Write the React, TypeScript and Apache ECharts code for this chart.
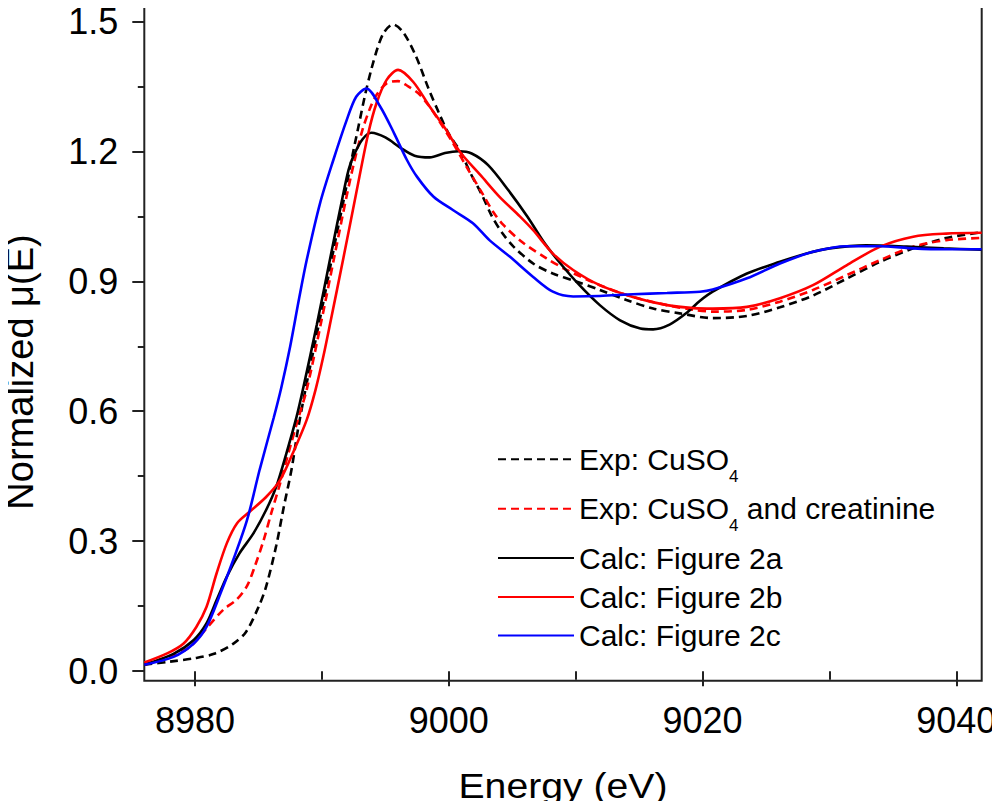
import React, { useEffect, useRef } from "react";
import * as echarts from "echarts";

// Axis ranges and ticks
const X_MIN = 8976;
const X_MAX = 9042;
const Y_MIN = -0.022;
const Y_MAX = 1.547;
const xMajorTicks = [8980, 9000, 9020, 9040];
const xMinorTicks = [8990, 9010, 9030];
const yMajorTicks = [0, 0.3, 0.6, 0.9, 1.2, 1.5];
const yMinorTicks = [0.15, 0.45, 0.75, 1.05, 1.35];

// Series names and legend labels
const seriesNames = [
  "Exp: CuSO4",
  "Exp: CuSO4 and creatinine",
  "Calc: Figure 2a",
  "Calc: Figure 2b",
  "Calc: Figure 2c",
];
const legendLabels = [
  "Exp: CuSO{sub|4}",
  "Exp: CuSO{sub|4} and creatinine",
  "Calc: Figure 2a",
  "Calc: Figure 2b",
  "Calc: Figure 2c",
];

// Data: [energy (eV), normalized mu(E)]
const expCuSO4 = [
  [8976, 0.015], [8978, 0.022], [8980, 0.03], [8981.5, 0.04], [8983, 0.063],
  [8984, 0.09], [8985, 0.148], [8985.6, 0.195], [8986.4, 0.29], [8987, 0.38],
  [8987.6, 0.465], [8988.1, 0.556], [8988.7, 0.65], [8989.4, 0.75], [8990.2, 0.865],
  [8991, 0.985], [8991.8, 1.1], [8992.4, 1.19], [8992.9, 1.26], [8993.4, 1.33],
  [8993.9, 1.39], [8994.4, 1.44], [8994.9, 1.475], [8995.6, 1.493], [8996.4, 1.475],
  [8997.4, 1.42], [8998.4, 1.345], [8999.2, 1.29], [9000, 1.24], [9000.9, 1.2],
  [9001.7, 1.15], [9002.6, 1.1], [9003.4, 1.05], [9004.2, 1.012], [9005.1, 0.98],
  [9006.7, 0.94], [9008.2, 0.918], [9010.1, 0.899], [9011.9, 0.88], [9014, 0.857],
  [9016.1, 0.837], [9018.2, 0.826], [9020.8, 0.815], [9023.5, 0.82], [9026.1, 0.84],
  [9028.7, 0.867], [9031.35, 0.906], [9034, 0.945], [9036.6, 0.976], [9039.2, 1.0],
  [9042, 1.013],
];
const expCuSO4Creatinine = [
  [8976, 0.015], [8978.3, 0.037], [8979.6, 0.056], [8980.9, 0.099], [8982.2, 0.141],
  [8983.3, 0.166], [8984.1, 0.197], [8984.7, 0.241], [8985.4, 0.302], [8986, 0.364],
  [8986.7, 0.433], [8987.5, 0.518], [8988.1, 0.58], [8988.8, 0.65], [8989.9, 0.8],
  [8991, 0.96], [8991.9, 1.09], [8992.5, 1.17], [8993.2, 1.25], [8993.8, 1.3],
  [8994.3, 1.33], [8995.1, 1.357], [8996, 1.362], [8996.8, 1.35], [8997.6, 1.334],
  [8998.3, 1.31], [8998.8, 1.29], [9000.35, 1.218], [9001.4, 1.164], [9002.7, 1.1],
  [9003.5, 1.06], [9004.3, 1.03], [9005.8, 0.99], [9007.7, 0.953], [9009.3, 0.926],
  [9011.9, 0.891], [9014.5, 0.864], [9017.2, 0.845], [9019.3, 0.834], [9020.8, 0.83],
  [9023.5, 0.834], [9026.1, 0.853], [9028.7, 0.88], [9031.35, 0.914], [9034, 0.949],
  [9036.6, 0.98], [9039.2, 0.995], [9042, 1.0],
];
const calcFigure2a = [
  [8976, 0.015], [8978.3, 0.04], [8979.9, 0.072], [8980.9, 0.11], [8981.7, 0.164],
  [8982.5, 0.218], [8983.5, 0.272], [8984.6, 0.318], [8985.6, 0.372], [8986.4, 0.426],
  [8987.2, 0.503], [8988, 0.587], [8988.5, 0.65], [8989.6, 0.8], [8990.7, 0.96],
  [8991.6, 1.09], [8992.1, 1.157], [8992.5, 1.19], [8993.2, 1.228], [8993.9, 1.243],
  [8995, 1.232], [8996.2, 1.208], [8997.3, 1.19], [8998.5, 1.186], [8999.7, 1.196],
  [9000.8, 1.2], [9001.8, 1.195], [9003.1, 1.168], [9004.7, 1.11], [9006.2, 1.049],
  [9007.5, 0.99], [9008.8, 0.941], [9010.3, 0.891], [9011.9, 0.845], [9013.5, 0.81],
  [9015.1, 0.791], [9016.1, 0.789], [9017.4, 0.8], [9018.7, 0.826], [9019.8, 0.855],
  [9020.8, 0.876], [9023.5, 0.918], [9026.1, 0.945], [9028.2, 0.964], [9030, 0.976],
  [9032.9, 0.983], [9036.1, 0.98], [9039, 0.976], [9042, 0.973],
];
const calcFigure2b = [
  [8976, 0.02], [8977.8, 0.041], [8979.1, 0.064], [8980.1, 0.102], [8980.9, 0.148],
  [8981.7, 0.226], [8982.5, 0.295], [8983.3, 0.341], [8984.3, 0.368], [8985.6, 0.402],
  [8986.7, 0.441], [8987.7, 0.503], [8988.8, 0.58], [8989.5, 0.65], [8990.1, 0.725],
  [8990.7, 0.81], [8991.7, 0.955], [8992.7, 1.103], [8993.65, 1.241], [8994.3, 1.311],
  [8995.1, 1.365], [8996, 1.388], [8997.2, 1.36], [8998.5, 1.303], [8999.8, 1.249],
  [9000.9, 1.198], [9002.5, 1.145], [9004, 1.095], [9005.6, 1.05], [9006.65, 1.018],
  [9008.2, 0.964], [9009.8, 0.926], [9011.9, 0.891], [9014.5, 0.864], [9017.2, 0.845],
  [9019.3, 0.838], [9020.8, 0.837], [9023.5, 0.841], [9026.1, 0.861], [9028.7, 0.891],
  [9031.35, 0.937], [9034, 0.98], [9036.6, 1.003], [9039.2, 1.01], [9042, 1.012],
];
const calcFigure2c = [
  [8976, 0.015], [8978.3, 0.033], [8979.9, 0.064], [8980.9, 0.102], [8982, 0.179],
  [8983, 0.256], [8984.1, 0.349], [8985.1, 0.466], [8986.2, 0.585], [8986.8, 0.655],
  [8987.5, 0.75], [8988.2, 0.86], [8988.8, 0.949], [8989.85, 1.08], [8990.9, 1.18],
  [8991.95, 1.272], [8992.7, 1.326], [8993.5, 1.345], [8994.6, 1.303], [8995.7, 1.241],
  [8996.7, 1.18], [8997.5, 1.141], [8998.8, 1.095], [9000.35, 1.064], [9001.9, 1.034],
  [9003.2, 0.995], [9004.8, 0.957], [9006.65, 0.91], [9008.2, 0.876], [9009.8, 0.865],
  [9011.9, 0.866], [9014.5, 0.87], [9017.2, 0.873], [9019.8, 0.876], [9020.8, 0.881],
  [9023.5, 0.907], [9026.1, 0.941], [9028.7, 0.968], [9031.35, 0.981], [9034, 0.981],
  [9036.6, 0.976], [9039.2, 0.974], [9042, 0.974],
];

const seriesData = [expCuSO4, expCuSO4Creatinine, calcFigure2a, calcFigure2b, calcFigure2c];
const seriesColors = ["#000000", "#ff0000", "#000000", "#ff0000", "#0000ff"];
const seriesDashed = [true, true, false, false, false];
const legendCenters = [459.5, 509, 558, 597, 635.5];

const FONT = "'Liberation Sans', Arial, Helvetica, sans-serif";
const AXIS_COLOR = "#222";

export default function App() {
  const ref = useRef<HTMLDivElement | null>(null);

  useEffect(() => {
    if (!ref.current) return;
    const chart = echarts.init(ref.current, null, { renderer: "svg" });

    const grid = { left: 144.3, right: 18.3, top: 1, bottom: 128.3 };

    const legends = seriesNames.map((name, i) => {
      const rich = legendLabels[i].includes("{sub|");
      const boxH = rich ? 51.4 : 30;
      return {
        data: [name],
        orient: "vertical",
        left: 497,
        top: legendCenters[i] - boxH / 2,
        padding: 0,
        itemWidth: 76,
        itemHeight: 2,
        selectedMode: false,
        itemStyle: { opacity: 0 },
        formatter: () => legendLabels[i],
        textStyle: {
          fontFamily: FONT,
          fontSize: 30,
          lineHeight: 30,
          color: "#000",
          rich: {
            sub: {
              fontFamily: FONT,
              fontSize: 17,
              lineHeight: 51,
              color: "#000",
              padding: [34, 0, 0, 0],
            },
          },
        },
      };
    });

    const option = {
      animation: false,
      backgroundColor: "#ffffff",
      grid: {
        ...grid,
        show: true,
        borderColor: AXIS_COLOR,
        borderWidth: 2,
        backgroundColor: "transparent",
      },
      xAxis: [
        {
          type: "value",
          min: X_MIN,
          max: X_MAX,
          position: "bottom",
          axisLine: { show: false },
          splitLine: { show: false },
          axisTick: {
            show: true,
            inside: false,
            length: 15,
            customValues: xMajorTicks,
            lineStyle: { color: AXIS_COLOR, width: 2 },
          },
          axisLabel: {
            customValues: xMajorTicks,
            margin: 22,
            fontSize: 36,
            fontFamily: FONT,
            color: "#000",
            formatter: (v: number) => String(v),
          },
        },
        {
          type: "value",
          min: X_MIN,
          max: X_MAX,
          position: "bottom",
          axisLine: { show: false },
          splitLine: { show: false },
          axisLabel: { show: false },
          axisTick: {
            show: true,
            inside: false,
            length: 8.5,
            customValues: xMinorTicks,
            lineStyle: { color: AXIS_COLOR, width: 2 },
          },
        },
      ],
      yAxis: [
        {
          type: "value",
          min: Y_MIN,
          max: Y_MAX,
          position: "left",
          axisLine: { show: false },
          splitLine: { show: false },
          axisTick: {
            show: true,
            inside: false,
            length: 12,
            customValues: yMajorTicks,
            lineStyle: { color: AXIS_COLOR, width: 2 },
          },
          axisLabel: {
            customValues: yMajorTicks,
            margin: 26,
            fontSize: 36,
            fontFamily: FONT,
            color: "#000",
            formatter: (v: number) => v.toFixed(1),
          },
        },
        {
          type: "value",
          min: Y_MIN,
          max: Y_MAX,
          position: "left",
          axisLine: { show: false },
          splitLine: { show: false },
          axisLabel: { show: false },
          axisTick: {
            show: true,
            inside: false,
            length: 6.5,
            customValues: yMinorTicks,
            lineStyle: { color: AXIS_COLOR, width: 2 },
          },
        },
      ],
      legend: legends,
      series: seriesNames.map((name, i) => ({
        name,
        type: "line",
        xAxisIndex: 0,
        yAxisIndex: 0,
        data: seriesData[i],
        showSymbol: false,
        symbol: "none",
        smooth: 0.3,
        clip: true,
        lineStyle: {
          color: seriesColors[i],
          width: 2.6,
          type: seriesDashed[i] ? [8, 5] : "solid",
        },
        itemStyle: { color: seriesColors[i] },
      })),
      graphic: [
        {
          type: "text",
          x: 563,
          y: 786,
          scaleX: 1.12,
          style: {
            text: "Energy (eV)",
            fontSize: 35,
            fontFamily: FONT,
            fill: "#000",
            align: "center",
            verticalAlign: "middle",
          },
        },
        {
          type: "text",
          x: 20,
          y: 372,
          rotation: Math.PI / 2,
          style: {
            text: "Normalized \u03bc(E)",
            fontSize: 38,
            fontFamily: FONT,
            fill: "#000",
            align: "center",
            verticalAlign: "middle",
          },
        },
      ],
    };

    chart.setOption(option as any);
    return () => {
      chart.dispose();
    };
  }, []);

  return <div ref={ref} style={{ width: 1000, height: 809, margin: -8 }} />;
}
